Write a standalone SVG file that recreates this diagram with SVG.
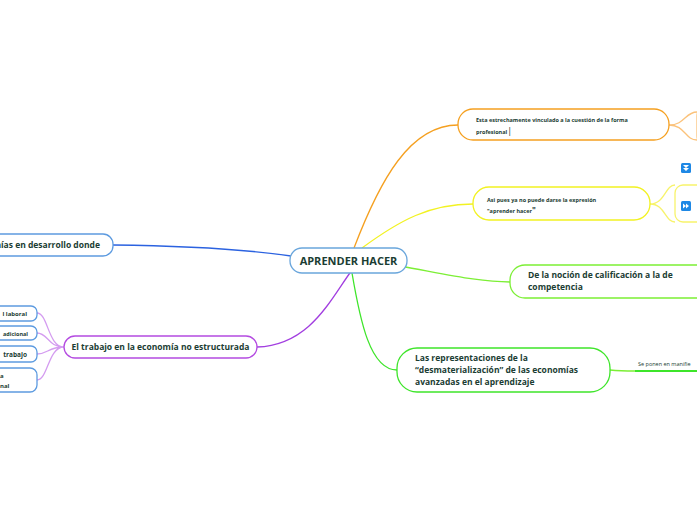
<svg xmlns="http://www.w3.org/2000/svg" width="697" height="520" viewBox="0 0 697 520">
<style>
text{font-family:"Open Sans","Noto Sans",sans-serif;font-weight:bold;fill:#1b3d33}
.n{fill:#fff;stroke-width:1.3}
.c{fill:none;stroke-width:1.3}
</style>
<rect width="697" height="520" fill="#fff"/>
<g id="connectors">
<path class="c" stroke="#2b62e0" d="M113,245 C200,246 250,250 291,256"/>
<path class="c" stroke="#a23ee0" d="M257,347 C310,345 330,300 352,270"/>
<path class="c" stroke="#d49cf0" d="M64,347 C48,347 48,313 37,313 M64,347 C48,347 48,333 37,333 M64,347 C48,347 48,354 37,354 M64,347 C48,347 48,380 37,380"/>
<path class="c" stroke="#f5a020" d="M354,248 C380,180 410,125 458,125"/>
<path class="c" stroke="#fbc27a" d="M669,125 C685,125 685,112 697,112 M669,125 C685,125 685,140 697,140"/>
<path class="c" stroke="#f2f222" d="M362,248 C400,220 430,204 473,204"/>
<path class="c" stroke="#f7f36b" d="M650,204 C665,204 665,185 675,185 M650,204 C665,204 665,222 675,222"/>
<path class="c" stroke="#7cef35" d="M400,266 C450,275 480,282 510,282"/>
<path class="c" stroke="#3ee52a" d="M352,273 C360,320 370,370 397,370"/>
<path class="c" stroke="#7cef35" d="M610,370 C620,371 625,371 635,371"/>
<path stroke="#3ee52a" stroke-width="2" d="M635,371 L697,371"/>
</g>
<g id="center"><rect class="n" stroke="#6aa6dc" x="290" y="248" width="117" height="25" rx="12"/><text x="348.5" y="265" font-size="11" text-anchor="middle" fill="#111">APRENDER HACER</text></g>
<g id="n-left1"><rect class="n" stroke="#5d9be0" x="-10" y="234" width="123" height="22" rx="10"/><text x="100" y="248" font-size="8.5" text-anchor="end" fill="#233">mías en desarrollo donde</text></g>
<g id="n-trabajo"><rect class="n" stroke="#b44be1" x="64" y="336" width="193" height="22" rx="11"/><text x="160.5" y="350" font-size="8.5" text-anchor="middle">El trabajo en la economía no estructurada</text></g>
<g id="s1"><rect class="n" stroke="#5d9be0" x="-10" y="306" width="47" height="15" rx="6"/><text x="27" y="316" font-size="6" text-anchor="end" fill="#233">l laboral</text></g>
<g id="s2"><rect class="n" stroke="#5d9be0" x="-10" y="326" width="47" height="14" rx="6"/><text x="28" y="336" font-size="5.5" text-anchor="end" fill="#233">adicional</text></g>
<g id="s3"><rect class="n" stroke="#5d9be0" x="-10" y="346" width="47" height="16" rx="6"/><text x="27" y="357" font-size="6.5" text-anchor="end" fill="#233">trabajo</text></g>
<g id="s4"><rect class="n" stroke="#5d9be0" x="-10" y="368" width="47" height="24" rx="7"/><text x="0" y="378" font-size="6" fill="#233">a</text><text x="0" y="388" font-size="6" fill="#233">nal</text></g>
<g id="n-orange"><rect class="n" stroke="#f5a020" x="458" y="109" width="211" height="31" rx="15"/><text x="476" y="122" font-size="5.5">Esta estrechamente vinculado a la cuestión de la forma</text><text x="476" y="134" font-size="5.5">profesional<tspan font-size="9" style="font-weight:normal">|</tspan></text></g>
<g id="n-orange-r"><rect class="n" stroke="#fbc27a" x="697" y="106" width="20" height="40" rx="10"/></g>
<g id="n-yellow"><rect class="n" stroke="#f2f222" x="473" y="187" width="177" height="33" rx="16"/><text x="487" y="202" font-size="5.5">Asi pues ya no puede darse la expresión</text><text x="487" y="213" font-size="5.5">"aprender hacer<tspan font-size="8">"</tspan></text></g>
<g id="n-yellow-r"><rect class="n" stroke="#f7f36b" stroke-width="1.8" x="675" y="185" width="40" height="37" rx="8"/><rect x="681" y="201" width="10" height="10" rx="1.5" fill="#1e88e5"/><path d="M683,203.5 L686,206 L683,208.5Z M686,203.5 L689,206 L686,208.5Z" fill="#fff"/></g>
<g id="n-icon1"><rect x="681" y="163" width="10" height="10" rx="1.5" fill="#1e88e5"/><path d="M683,165 L689,165 L686,168Z M683,168 L689,168 L686,171Z" fill="#fff"/></g>
<g id="n-green1"><rect class="n" stroke="#7cef35" x="510" y="265" width="210" height="33" rx="15"/><text x="528" y="278" font-size="8.5">De la noción de calificación a la de</text><text x="528" y="290" font-size="8.5">competencia</text></g>
<g id="n-green2"><rect class="n" stroke="#3ee52a" x="397" y="348" width="213" height="44" rx="20"/><text x="415" y="361" font-size="8.5">Las representaciones de la</text><text x="415" y="373" font-size="8.5">“desmaterialización” de las economías</text><text x="415" y="385" font-size="8.5">avanzadas en el aprendizaje</text></g>
<g id="n-green3"><text x="638" y="366" font-size="5.5" style="font-weight:normal" fill="#222">Se ponen en manifie</text></g>
</svg>
